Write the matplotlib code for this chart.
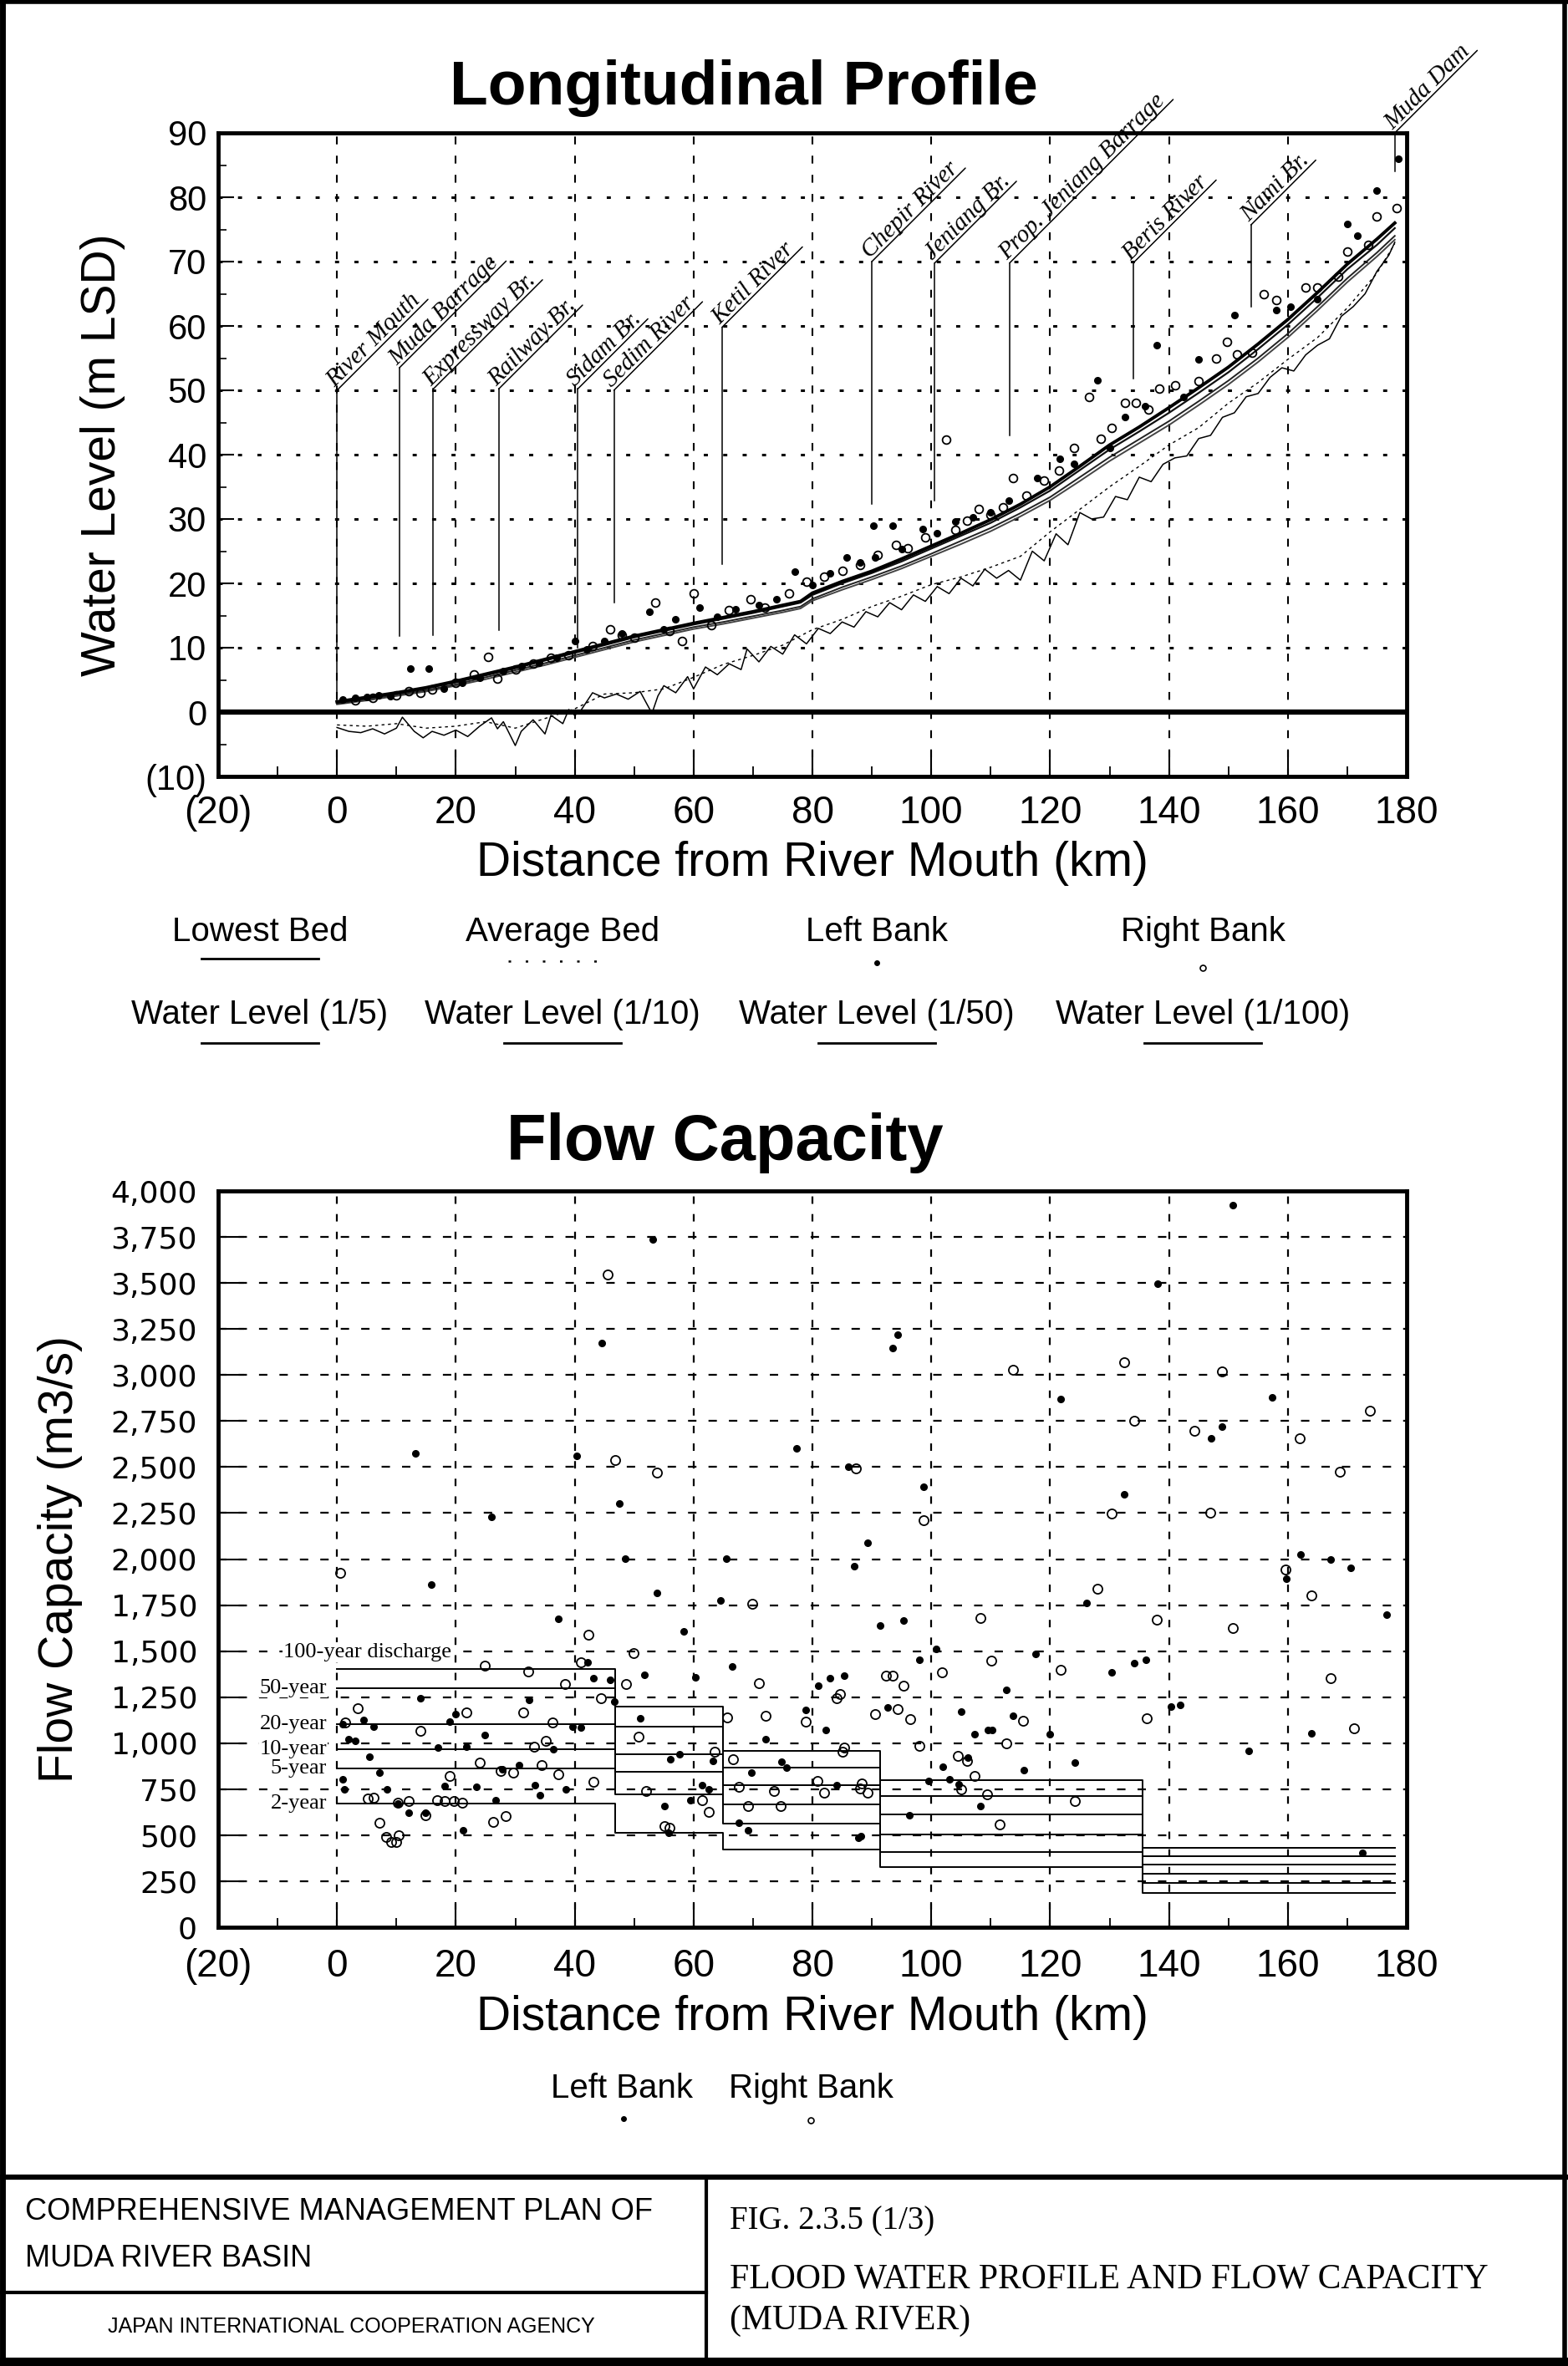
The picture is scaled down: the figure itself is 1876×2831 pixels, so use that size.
import matplotlib
matplotlib.use('Agg')
import matplotlib.pyplot as plt
import matplotlib.ticker as mticker
from matplotlib.lines import Line2D
from matplotlib.textpath import TextPath
from matplotlib.font_manager import FontProperties
import numpy as np

# ---------------- DATA ----------------
# Longitudinal profile: water levels (m LSD) vs distance (km)
wl_km = [0, 5, 10, 15, 20, 25, 30, 35, 40, 45, 50, 55, 60, 65, 70, 75, 78, 80, 85, 90, 95,
         100, 105, 110, 115, 120, 125, 130, 135, 140, 145, 150, 155, 160, 165, 170, 175, 178]
wl_100 = [1.6, 2.3, 3.0, 3.8, 4.8, 5.9, 7.0, 8.2, 9.4, 10.6, 11.8, 12.8, 13.8, 14.7, 15.6, 16.6, 17.2,
          18.5, 20.3, 21.9, 23.8, 25.8, 27.8, 29.9, 32.3, 35.0, 38.2, 41.5, 44.3, 47.3, 50.4, 53.6,
          57.2, 61.0, 65.2, 69.6, 73.5, 76.0]
wl_50 = [1.5, 2.2, 2.9, 3.7, 4.6, 5.7, 6.8, 8.0, 9.2, 10.4, 11.6, 12.6, 13.6, 14.5, 15.4, 16.4, 17.0,
         18.2, 20.0, 21.6, 23.4, 25.4, 27.4, 29.4, 31.8, 34.4, 37.6, 40.8, 43.6, 46.5, 49.6, 52.8,
         56.4, 60.2, 64.4, 68.8, 72.6, 75.2]
wl_10 = [1.3, 2.0, 2.7, 3.4, 4.3, 5.4, 6.5, 7.6, 8.8, 10.0, 11.2, 12.2, 13.2, 14.0, 14.9, 15.8, 16.4,
         17.6, 19.4, 21.0, 22.7, 24.6, 26.6, 28.6, 30.9, 33.4, 36.5, 39.6, 42.4, 45.2, 48.3, 51.5,
         55.0, 58.8, 63.0, 67.4, 71.4, 74.0]
wl_5 = [1.2, 1.8, 2.5, 3.2, 4.1, 5.1, 6.2, 7.3, 8.5, 9.7, 10.9, 11.9, 12.9, 13.7, 14.6, 15.5, 16.1,
        17.3, 19.0, 20.6, 22.3, 24.2, 26.1, 28.1, 30.4, 32.9, 35.9, 39.0, 41.8, 44.6, 47.7, 50.9,
        54.4, 58.2, 62.4, 66.8, 70.8, 73.4]

bed_km = [0, 2, 4, 6, 8, 10, 11, 13, 14.5, 16, 18, 20, 22, 24, 26, 27, 28, 30, 31, 33, 35, 36, 38, 39,
          40, 41, 43, 45, 47, 49, 51, 53, 54, 55, 57, 59, 60, 62, 64, 66, 68, 69, 71, 73, 75, 77, 79,
          81, 83, 85, 87, 89, 91, 93, 95, 97, 99, 101, 103, 105, 107, 109, 111, 113, 115, 117, 119,
          121, 123, 125, 127, 129, 131, 133, 135, 137, 139, 141, 143, 145, 147, 149, 151, 153, 155,
          157, 159, 161, 163, 165, 167, 169, 171, 173, 175, 177, 178]
lowest_bed = [-2.4, -3.0, -3.2, -2.6, -3.4, -2.5, -0.8, -3.0, -4.0, -3.0, -3.6, -2.8, -3.8, -2.2, -0.9,
              -2.6, -1.5, -5.2, -3.0, -1.2, -3.4, -0.5, -1.8, 0.4, -0.5, 0.2, 3.0, 2.2, 2.8, 2.0, 3.2,
              -0.2, 2.5, 4.1, 3.0, 5.5, 3.6, 7.0, 5.8, 7.5, 6.6, 9.8, 7.8, 10.2, 9.0, 12.0, 10.6,
              13.0, 12.2, 14.0, 13.2, 15.6, 14.8, 17.0, 15.9, 18.2, 17.2, 19.5, 18.4, 20.8, 19.6,
              22.2, 20.8, 22.0, 20.5, 25.0, 23.5, 27.7, 26.0, 31.0, 30.0, 30.3, 33.5, 33.0, 36.5,
              35.8, 38.5, 39.5, 39.8, 42.5, 43.0, 45.8, 46.5, 49.0, 49.5, 52.0, 53.5, 53.0, 55.5,
              57.0, 58.0, 61.5, 63.0, 65.0, 68.5, 71.0, 73.0]

avg_km = [0, 5, 10, 15, 20, 25, 30, 35, 40, 45, 50, 55, 60, 65, 70, 75, 80, 85, 90, 95, 100, 105,
          110, 115, 120, 125, 130, 135, 140, 145, 150, 155, 160, 165, 170, 175, 178]
average_bed = [-2.0, -2.2, -1.8, -2.5, -2.2, -1.5, -2.5, -1.0, 0.5, 2.8, 3.0, 3.6, 5.4, 7.4, 8.8,
               10.4, 12.8, 14.4, 16.4, 18.0, 19.8, 21.0, 22.5, 24.2, 28.0, 31.5, 35.0, 38.2, 41.5,
               44.2, 48.0, 51.2, 54.8, 58.2, 62.8, 68.2, 72.8]

lb_km = [1, 3, 5, 7, 9, 12.3, 15.5, 18, 21, 24, 28, 31, 34, 37, 40, 42, 45, 48, 52.6, 55, 57, 61,
         64, 67, 71, 74, 77, 80, 83, 85.8, 88, 90.3, 90.6, 93.5, 95, 98.5, 101, 104, 107, 110, 113,
         117.8, 121.7, 124, 128, 130, 132.6, 136, 138, 142.5, 145, 151, 158, 160.4, 165, 170,
         171.7, 175, 178.6]
lb_m = [2.0, 2.2, 2.4, 2.6, 2.5, 6.7, 6.7, 3.6, 4.5, 5.3, 6.4, 7.2, 7.6, 8.5, 11.0, 9.8, 11.0, 12.2,
        15.6, 12.9, 14.4, 16.2, 14.8, 16.0, 16.6, 17.5, 21.8, 19.8, 21.5, 24.0, 23.2, 29.0, 24.0,
        29.0, 25.3, 28.5, 27.8, 29.6, 30.2, 31.0, 32.8, 36.3, 39.3, 38.6, 51.5, 41.0, 45.8, 47.5,
        57.0, 49.0, 54.8, 61.7, 62.5, 63.0, 64.2, 75.8, 74.0, 81.0, 86.0]

rb_km = [3, 6, 10, 12, 14, 16, 20, 23, 25.4, 27, 30, 33, 36, 39, 43, 46, 48, 50, 53.6, 56, 58, 60,
         63, 66, 69.6, 72, 76, 79, 82, 85, 88, 91, 94, 96, 99, 102.5, 104, 106, 108, 110, 112,
         113.8, 116, 119, 121.5, 124, 126.5, 128.5, 130.4, 132.6, 134.5, 136.5, 138.4, 141, 145,
         148, 149.7, 151.4, 154, 156, 158, 163, 165, 168.5, 170, 173.5, 175, 178.3]
rb_m = [1.8, 2.2, 2.6, 3.3, 3.0, 3.5, 4.6, 5.8, 8.6, 5.2, 6.6, 7.5, 8.4, 8.8, 10.2, 12.8, 12.0, 11.5,
        17.0, 12.6, 11.0, 18.5, 13.5, 15.8, 17.5, 16.2, 18.5, 20.2, 21.0, 22.0, 22.8, 24.4, 26.0,
        25.5, 27.2, 42.3, 28.3, 29.8, 31.5, 30.6, 31.8, 36.3, 33.6, 36.0, 37.5, 41.0, 49.0, 42.5,
        44.2, 48.0, 48.0, 47.0, 50.3, 50.8, 51.4, 55.0, 57.5, 55.6, 55.8, 65.0, 64.0, 66.0, 66.0,
        67.7, 71.5, 72.6, 77.0, 78.3]

# Landmarks along the river
lm_names = ['River Mouth', 'Muda Barrage', 'Expressway Br.', 'Railway Br.', 'Sidam Br.',
            'Sedim River', 'Ketil River', 'Chepir River', 'Jeniang Br.', 'Prop. Jeniang Barrage',
            'Beris River', 'Nami Br.', 'Muda Dam']
lm_km = [0, 10.5, 16.2, 27.2, 40.5, 46.6, 64.8, 90, 100.6, 113.2, 134, 153.8, 178]
lm_low = [2, 11.8, 12, 12.7, 10, 17, 23, 32.4, 32.8, 43, 51.8, 63, 84]
lm_high = [50, 53.5, 50.2, 50.2, 50.2, 50, 59.8, 70, 69.8, 69.8, 69.8, 75.7, 90]

# Flow capacity: design discharges per reach
reach_edges = [0, 46.8, 65, 91.4, 135.5, 178]
q_labels = ['100-year discharge', '50-year', '20-year', '10-year', '5-year', '2-year']
q_100 = [1405, 1200, 960, 800, 430]
q_50 = [1300, 1090, 865, 715, 385]
q_20 = [1105, 940, 770, 612, 340]
q_10 = [965, 843, 668, 502, 290]
q_5 = [862, 720, 563, 410, 240]
q_2 = [670, 513, 424, 327, 185]

fc_left_km = [53.1, 44.5, 13.2, 40.3, 26.0, 47.5, 15.8, 48.5, 53.8, 37.3, 58.3, 42.1, 51.8, 43.2,
              60.3, 66.5, 65.5, 64.5, 77.3, 86.0, 87.0, 81.0, 83.0, 78.9, 14.1, 32.3, 19.9, 19.0,
              4.5, 6.2, 0.9, 1.9, 3.0, 24.9, 39.6, 41.0, 46.0, 46.6, 0.9, 1.2, 5.4, 7.1, 17.0, 21.8,
              36.4, 23.5, 18.1, 26.7, 33.3, 34.2, 38.5, 8.4, 10.2, 12.0, 14.9, 27.8, 30.7, 51.0,
              56.1, 57.6, 63.3, 61.4, 62.6, 59.4, 55.1, 21.2, 55.8, 67.6, 69.2, 69.8, 72.1, 75.7,
              74.8, 82.2, 84.1, 87.7, 150.8, 138.1, 94.4, 93.5, 121.8, 157.3, 147.1, 148.9, 98.7,
              132.4, 89.3, 162.1, 167.2, 170.6, 159.7, 126.2, 91.4, 95.4, 176.6, 100.8, 117.6, 98.0,
              130.3, 134.1, 136.1, 85.4, 112.7, 140.4, 141.9, 92.7, 105.1, 113.7, 107.3, 109.6,
              110.2, 119.9, 164.0, 153.4, 101.9, 124.2, 115.6, 99.5, 103.1, 104.6, 106.2, 108.3,
              96.3, 88.2, 172.5]
fc_left_q = [3738, 3172, 2574, 2560, 2230, 2304, 1860, 2001, 1816, 1676, 1607, 1441, 1373, 1353,
             1359, 1417, 2001, 1775, 2600, 2503, 1960, 1312, 1353, 1180, 1243, 1235, 1160, 1119,
             1127, 1091, 1105, 1022, 1014, 1042, 1091, 1086, 1345, 1224, 802, 747, 926, 838, 976,
             981, 967, 761, 769, 692, 774, 719, 747, 747, 672, 623, 623, 857, 879, 1133, 912, 940,
             904, 774, 747, 692, 659, 526, 513, 568, 526, 838, 1022, 865, 898, 1070, 774, 485,
             3922, 3495, 3218, 3146, 2869, 2877, 2655, 2719, 2392, 2350, 2087, 2026, 1998, 1954,
             1893, 1760, 1638, 1666, 1699, 1510, 1486, 1455, 1386, 1433, 1455, 1366, 1289, 1200,
             1208, 1194, 1172, 1150, 1048, 1070, 1070, 1048, 1053, 959, 873, 895, 854, 793, 804,
             776, 923, 660, 610, 493, 405]

fc_right_km = [45.5, 0.5, 46.8, 53.8, 69.9, 42.3, 41.1, 49.9, 24.9, 32.2, 38.4, 48.6, 71.0, 84.1,
               3.5, 21.8, 31.4, 65.7, 72.1, 78.9, 1.4, 14.0, 36.3, 50.8, 33.2, 35.1, 63.5, 85.1,
               66.7, 24.0, 27.6, 29.6, 34.4, 37.3, 19.0, 43.2, 52.0, 67.6, 73.5, 80.9, 82.0, 88.0,
               5.2, 6.2, 10.2, 12.0, 16.9, 18.1, 19.7, 21.0, 14.9, 26.3, 28.4, 7.1, 8.3, 9.1, 10.0,
               10.4, 61.4, 62.6, 55.1, 56.0, 69.1, 74.7, 44.4, 113.7, 132.4, 148.9, 87.3, 134.1,
               144.3, 173.8, 162.0, 168.7, 98.7, 130.3, 147.0, 159.6, 128.0, 163.9, 137.9, 108.3,
               150.8, 110.1, 101.8, 121.8, 167.2, 92.4, 93.5, 95.4, 84.7, 90.6, 94.3, 96.4, 136.2,
               115.5, 171.2, 85.4, 98.0, 112.7, 104.5, 106.0, 107.3, 105.1, 109.4, 88.3, 89.3,
               124.1, 111.5]
fc_right_q = [3545, 1924, 2539, 2470, 1758, 1588, 1441, 1491, 1422, 1389, 1320, 1320, 1326, 1243,
              1188, 1166, 1166, 1138, 1147, 1119, 1111, 1069, 1113, 1036, 981, 1014, 954, 954, 912,
              893, 849, 838, 879, 830, 824, 788, 741, 761, 739, 794, 733, 755, 697, 705, 678, 684,
              692, 684, 684, 678, 609, 573, 604, 568, 491, 463, 463, 499, 692, 628, 548, 540, 659,
              659, 1243, 3030, 3071, 3021, 2494, 2752, 2697, 2808, 2655, 2475, 2212, 2248, 2253,
              1943, 1838, 1801, 1671, 1682, 1624, 1450, 1386, 1400, 1353, 1366, 1366, 1311, 1269,
              1158, 1186, 1131, 1136, 1123, 1081, 978, 987, 1000, 931, 904, 820, 751, 723, 779,
              729, 687, 557]

x_ticks = [-20, 0, 20, 40, 60, 80, 100, 120, 140, 160, 180]
wl_ticks = [-10, 0, 10, 20, 30, 40, 50, 60, 70, 80, 90]
fc_ticks = list(range(0, 4001, 250))

# ---------------- STYLE / LAYOUT ----------------
W, H, DPI = 1876, 2831, 100
SANS = ['Liberation Sans', 'DejaVu Sans']
NARROW = ['Liberation Sans Narrow', 'Liberation Sans', 'DejaVu Sans']
SERIF = ['Liberation Serif', 'DejaVu Serif']
WIDE = ['DejaVu Sans']

plt.rcParams['font.family'] = SANS

fig = plt.figure(figsize=(W / DPI, H / DPI), dpi=DPI)
fig.patch.set_facecolor('white')


def fx(px):
    return px / W


def fy(py):
    return 1 - py / H


def paren_fmt(v, pos=None):
    v = int(round(v))
    return f'({abs(v)})' if v < 0 else f'{v}'


def fig_line(x0, x1, y0, y1, **kw):
    fig.add_artist(Line2D([fx(x0), fx(x1)], [fy(y0), fy(y1)], transform=fig.transFigure, **kw))


AX_L, AX_R = 261, 1683

# ================= Longitudinal profile =================
ax1 = fig.add_axes([fx(AX_L), fy(929), fx(AX_R) - fx(AX_L), fy(159) - fy(929)])
ax1.set_xlim(-20, 180)
ax1.set_ylim(-10, 90)

for yv in wl_ticks[2:-1]:
    ax1.axhline(yv, color='k', lw=2.2, dashes=(1.6, 6.0), zorder=1)
for xv in x_ticks[1:-1]:
    ax1.axvline(xv, color='k', lw=1.5, dashes=(4.5, 6.5), zorder=1)
ax1.axhline(0, color='k', lw=4.5, zorder=2)

ax1.plot(bed_km, lowest_bed, color='k', lw=1.1, zorder=3)
ax1.plot(avg_km, average_bed, color='k', lw=1.0, dashes=(2.5, 3), zorder=3)
ax1.plot(wl_km, wl_5, color='#444444', lw=1.4, zorder=4)
ax1.plot(wl_km, wl_10, color='#222222', lw=1.4, zorder=4)
ax1.plot(wl_km, wl_50, color='#111111', lw=1.6, zorder=4)
ax1.plot(wl_km, wl_100, color='k', lw=2.8, zorder=4)
ax1.plot(lb_km, lb_m, ls='none', marker='o', ms=5.5, color='k', zorder=5)
ax1.plot(rb_km, rb_m, ls='none', marker='o', ms=7, mfc='none', mec='k', mew=1.3, zorder=5)

# landmark annotations
LM_FS = 21
LM_ANG = 45
lm_prop = FontProperties(family=SERIF, style='italic', size=LM_FS)
for name, xk, lo, hi in zip(lm_names, lm_km, lm_low, lm_high):
    ax1.plot([xk, xk], [lo, hi], color='k', lw=1.1, zorder=6, clip_on=False)
    w = TextPath((0, 0), name, size=LM_FS, prop=lm_prop).get_extents().width
    L = w + 6
    dx, dy = L * np.cos(np.radians(LM_ANG)), L * np.sin(np.radians(LM_ANG))
    ax1.annotate('', xy=(xk, hi), xytext=(dx, dy), textcoords='offset points',
                 arrowprops=dict(arrowstyle='-', lw=1.1, color='k', shrinkA=0, shrinkB=0),
                 annotation_clip=False, zorder=6)
    ax1.annotate(name, xy=(xk, hi), xytext=(-2, 2), textcoords='offset points',
                 rotation=LM_ANG, rotation_mode='anchor', ha='left', va='baseline',
                 fontsize=LM_FS, fontstyle='italic', family=SERIF, annotation_clip=False,
                 zorder=6)

ax1.set_xticks(x_ticks)
ax1.set_yticks(wl_ticks)
ax1.xaxis.set_major_formatter(mticker.FuncFormatter(paren_fmt))
ax1.yaxis.set_major_formatter(mticker.FuncFormatter(paren_fmt))
ax1.xaxis.set_minor_locator(mticker.MultipleLocator(10))
ax1.yaxis.set_minor_locator(mticker.MultipleLocator(5))
ax1.tick_params(axis='x', which='major', direction='in', length=22, width=1.5, labelsize=33, pad=16)
ax1.tick_params(axis='x', which='minor', direction='in', length=9, width=1.3)
ax1.tick_params(axis='y', which='major', direction='in', length=14, width=1.5, labelsize=30, pad=10)
ax1.tick_params(axis='y', which='minor', direction='in', length=7, width=1.2)
for sp in ax1.spines.values():
    sp.set_linewidth(3.5)

ax1.set_xlabel('Distance from River Mouth (km)', fontsize=41)
ax1.set_ylabel('Water Level (m LSD)', fontsize=41)
ax1.xaxis.set_label_coords(0.5, -0.135)
ax1.xaxis.label.set_va('center')
ax1.yaxis.set_label_coords(-0.097, 0.5)
ax1.yaxis.label.set_va('center')

fig.text(fx(890), fy(105), 'Longitudinal Profile', ha='center', va='center',
         fontsize=54, fontweight='bold')

# legend of the profile chart
LEG_FS = 29
leg_row1 = [('Lowest Bed', 311, 'line'), ('Average Bed', 673, 'dots'),
            ('Left Bank', 1049, 'filled'), ('Right Bank', 1439, 'open')]
for label, xc, kind in leg_row1:
    fig.text(fx(xc), fy(1115), label, ha='center', va='center', fontsize=LEG_FS)
    if kind == 'line':
        fig_line(xc - 70, xc + 70, 1147, 1147, color='k', lw=2)
    elif kind == 'dots':
        fig_line(xc - 65, xc + 55, 1150, 1150, color='k', lw=1.8, dashes=(1.2, 7))
    elif kind == 'filled':
        fig.add_artist(Line2D([fx(xc)], [fy(1152)], transform=fig.transFigure, marker='o',
                              ms=4, color='k', ls='none'))
    else:
        fig.add_artist(Line2D([fx(xc)], [fy(1158)], transform=fig.transFigure, marker='o',
                              ms=5, mfc='none', mec='k', mew=1.2, ls='none'))
leg_row2 = [('Water Level (1/5)', 311), ('Water Level (1/10)', 673),
            ('Water Level (1/50)', 1049), ('Water Level (1/100)', 1439)]
for label, xc in leg_row2:
    fig.text(fx(xc), fy(1214), label, ha='center', va='center', fontsize=LEG_FS)
    fig_line(xc - 70, xc + 70, 1248, 1248, color='k', lw=2)

# ================= Flow capacity =================
ax2 = fig.add_axes([fx(AX_L), fy(2306), fx(AX_R) - fx(AX_L), fy(1425) - fy(2306)])
ax2.set_xlim(-20, 180)
ax2.set_ylim(0, 4000)

for yv in fc_ticks[1:-1]:
    ax2.axhline(yv, color='k', lw=1.6, dashes=(4.5, 6.5), zorder=1)
for xv in x_ticks[1:-1]:
    ax2.axvline(xv, color='k', lw=1.6, dashes=(4.0, 5.5), zorder=1)

q_series = [q_100, q_50, q_20, q_10, q_5, q_2]
for qs in q_series:
    ax2.step(reach_edges, qs + [qs[-1]], where='post', color='k', lw=1.4, zorder=3)

# discharge labels
ax2.text(-9, 1495, q_labels[0], ha='left', va='center', fontsize=19, family=SERIF, zorder=4,
         bbox=dict(facecolor='white', edgecolor='none', pad=0.5))
for lab, qs in zip(q_labels[1:], q_series[1:]):
    ax2.text(-1.7, qs[0], lab, ha='right', va='center', fontsize=19, family=SERIF, zorder=4,
             bbox=dict(facecolor='white', edgecolor='none', pad=0.5))

ax2.plot(fc_left_km, fc_left_q, ls='none', marker='o', ms=5.5, color='k', zorder=5)
ax2.plot(fc_right_km, fc_right_q, ls='none', marker='o', ms=8, mfc='none', mec='k', mew=1.3,
         zorder=5)

ax2.set_xticks(x_ticks)
ax2.set_yticks(fc_ticks)
ax2.xaxis.set_major_formatter(mticker.FuncFormatter(paren_fmt))
ax2.yaxis.set_major_formatter(mticker.FuncFormatter(lambda v, p: f'{int(v):,}'))
ax2.xaxis.set_minor_locator(mticker.MultipleLocator(10))
ax2.tick_params(axis='x', which='major', direction='in', length=20, width=1.5, labelsize=33, pad=18)
ax2.tick_params(axis='x', which='minor', direction='in', length=8, width=1.3)
ax2.tick_params(axis='y', which='major', direction='in', length=22, width=1.5, labelsize=26, pad=18)
for lbl in ax2.get_yticklabels():
    lbl.set_family(WIDE)
for sp in ax2.spines.values():
    sp.set_linewidth(3.5)

ax2.set_xlabel('Distance from River Mouth (km)', fontsize=41)
ax2.set_ylabel('Flow Capacity (m3/s)', fontsize=41)
ax2.xaxis.set_label_coords(0.5, -0.1226)
ax2.xaxis.label.set_va('center')
ax2.yaxis.set_label_coords(-0.133, 0.5)
ax2.yaxis.label.set_va('center')

fig.text(fx(867), fy(1367), 'Flow Capacity', ha='center', va='center', fontsize=56,
         fontweight='bold')

fig.text(fx(744), fy(2499), 'Left Bank', ha='center', va='center', fontsize=LEG_FS)
fig.text(fx(970), fy(2499), 'Right Bank', ha='center', va='center', fontsize=LEG_FS)
fig.add_artist(Line2D([fx(746)], [fy(2535)], transform=fig.transFigure, marker='o', ms=4,
                      color='k', ls='none'))
fig.add_artist(Line2D([fx(970)], [fy(2537)], transform=fig.transFigure, marker='o', ms=5,
                      mfc='none', mec='k', mew=1.2, ls='none'))

# ================= Page frame and title block =================
fig_line(3, 3, 0, H, color='k', lw=5)
fig_line(1872, 1872, 0, H, color='k', lw=4)
fig_line(0, W, 2, 2, color='k', lw=4)
fig_line(0, W, 2826, 2826, color='k', lw=8)
fig_line(0, W, 2605, 2605, color='k', lw=4.5)
fig_line(845, 845, 2605, 2826, color='k', lw=3)
fig_line(0, 845, 2743, 2743, color='k', lw=3)

fig.text(fx(30), fy(2647), 'COMPREHENSIVE MANAGEMENT PLAN OF', ha='left', va='center',
         fontsize=26)
fig.text(fx(30), fy(2703), 'MUDA RIVER BASIN', ha='left', va='center', fontsize=26)
fig.text(fx(420), fy(2784), 'JAPAN INTERNATIONAL COOPERATION AGENCY', ha='center', va='center',
         fontsize=18, family=NARROW)
fig.text(fx(873), fy(2658), 'FIG. 2.3.5 (1/3)', ha='left', va='center', fontsize=28,
         family=SERIF)
fig.text(fx(873), fy(2727), 'FLOOD WATER PROFILE AND FLOW CAPACITY', ha='left', va='center',
         fontsize=30, family=SERIF)
fig.text(fx(873), fy(2777), '(MUDA RIVER)', ha='left', va='center', fontsize=30, family=SERIF)

fig.savefig('out.png', dpi=DPI, facecolor='white')
